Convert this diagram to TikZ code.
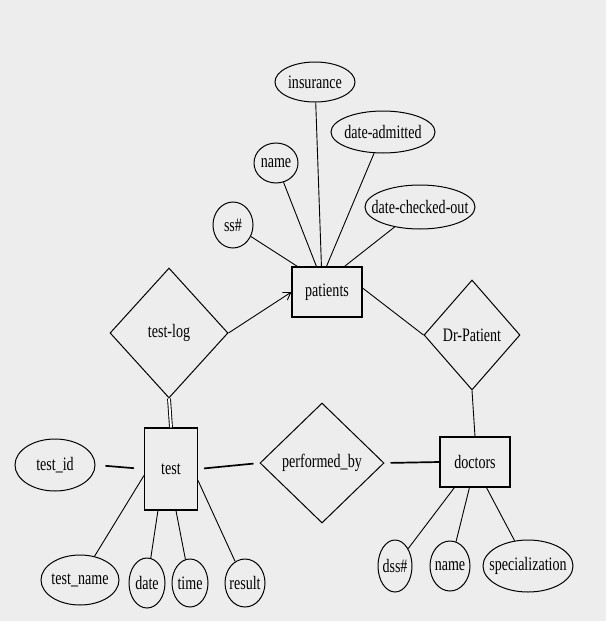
\documentclass[tikz,border=0pt]{standalone}
\usepackage{fontspec}
\setmainfont{Liberation Serif}[FakeStretch=0.74]
\usetikzlibrary{shapes.geometric,calc,arrows.meta}
\begin{document}
\begin{tikzpicture}[x=1pt,y=-1pt,
  every node/.style={font=\fontsize{19}{21}\selectfont, inner sep=0pt},
  attr/.style={draw, ellipse, line width=1pt, inner sep=-12pt},
  ent/.style={draw, rectangle, line width=1.1pt},
  rel/.style={draw, diamond, line width=1pt},
  ln/.style={line width=0.9pt},
  thk/.style={line width=1.7pt}]
\fill[gray!14] (0,0) rectangle (606,621);
\useasboundingbox (0,0) rectangle (606,621);
% attributes of patients
\node[attr, minimum width=80, minimum height=40] (ins) at (315,82) {insurance};
\node[attr, minimum width=44, minimum height=40] (pname) at (276,163) {name};
\node[attr, minimum width=104, minimum height=42] (dadm) at (383,132) {date-admitted};
\node[attr, minimum width=110, minimum height=44] (dchk) at (420,207) {date-checked-out};
\node[attr, minimum width=40, minimum height=46] (ss) at (233,225) {ss\#};
% entities
\node[ent, minimum width=70, minimum height=50] (pat) at (327,292) {patients};
\node[ent, minimum width=53, minimum height=82] (test) at (171,469) {test};
\node[ent, minimum width=70, minimum height=50] (doc) at (475,462) {doctors};
% relationships
\node[rel, minimum width=118, minimum height=130, inner sep=-20pt] (tlog) at (169,333) {test-log};
\node[rel, minimum width=96, minimum height=110, inner sep=-20pt] (drp) at (472,335) {Dr-Patient};
\node[rel, minimum width=124, minimum height=120, inner sep=-20pt] (perf) at (322,463) {performed\_by};
% test attributes
\node[attr, minimum width=80, minimum height=52] (tid) at (55,465) {test\_id};
\node[attr, minimum width=78, minimum height=50] (tname) at (80,580) {test\_name};
\node[attr, minimum width=36, minimum height=50] (date) at (147,583) {date};
\node[attr, minimum width=36, minimum height=48] (time) at (190,583) {time};
\node[attr, minimum width=40, minimum height=48] (res) at (245,583) {result};
% doctor attributes
\node[attr, minimum width=34, minimum height=52] (dss) at (395,566) {dss\#};
\node[attr, minimum width=40, minimum height=50] (dname) at (450,566) {name};
\node[attr, minimum width=90, minimum height=52] (spec) at (528,566) {specialization};
% patient attribute lines
\draw[ln] (ss) -- ($(pat.north west)+(6,0)$);
\draw[ln] (pname) -- ($(pat.north west)+(25,0)$);
\draw[ln] (ins) -- ($(pat.north west)+(30,0)$);
\draw[ln] (dadm) -- ($(pat.north west)+(35,0)$);
\draw[ln] (dchk) -- ($(pat.north west)+(53,0)$);
% relationships
\draw[ln,-{Straight Barb[length=7pt,width=9pt]}] (tlog.east) -- (pat.west);
\draw[ln,double,double distance=2pt] (tlog.south) -- (test.north);
\draw[ln] ($(pat.east)+(0,-4)$) -- (drp.west);
\draw[ln] (drp.south) -- (doc.north);
\draw[thk,shorten <=6pt,shorten >=6pt] (test.east) -- (perf.west);
\draw[thk,shorten <=6pt] (perf.east) -- (doc.west);
\draw[thk,shorten <=10pt,shorten >=10pt] (tid.east) -- (test.west);
% test attribute lines
\draw[ln] (tname) -- ($(test.south west)+(0,-35)$);
\draw[ln] (date) -- ($(test.south west)+(14,0)$);
\draw[ln] (time) -- ($(test.south west)+(32,0)$);
\draw[ln] (res) -- ($(test.south east)+(0,-30)$);
% doctor attribute lines
\draw[ln] (dss) -- ($(doc.south west)+(15,0)$);
\draw[ln] (dname) -- ($(doc.south west)+(30,0)$);
\draw[ln] (spec) -- ($(doc.south west)+(47,0)$);
\end{tikzpicture}
\end{document}
